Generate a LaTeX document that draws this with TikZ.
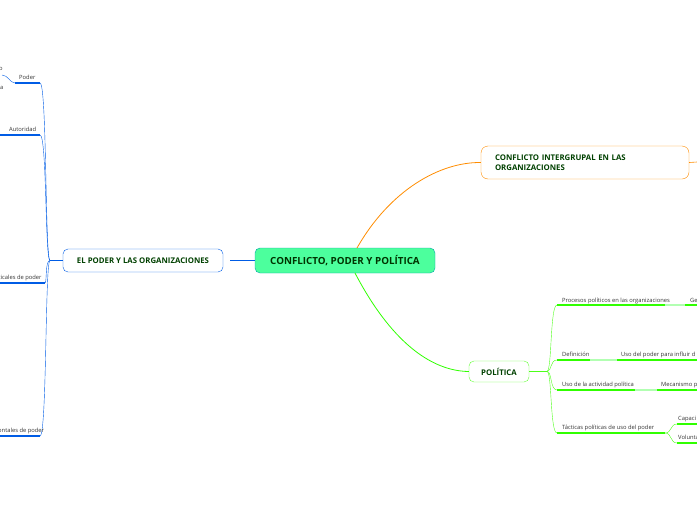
\documentclass[tikz,border=0pt]{standalone}
\usepackage{fontspec}
\setmainfont{Open Sans}
\begin{document}
\begin{tikzpicture}[x=1pt,y=-1pt,
  small/.style={font=\fontsize{5.8}{7}\selectfont,text=black!80,inner sep=0pt,anchor=base west},
  bl/.style={draw=blue!60!cyan!90!black,line width=0.4pt},
  blu/.style={draw=blue!60!cyan!90!black,line width=1.2pt},
  gr/.style={draw=green!70!lime!90!white,line width=0.4pt},
  gru/.style={draw=green!75!lime,line width=1.2pt},
  hd/.style={font=\fontsize{7.8}{9.5}\selectfont\bfseries,text=green!25!black,align=left}]
\useasboundingbox (0,0) rectangle (697,520);
\clip (0,0) rectangle (697,520);
% center
\node[draw=teal!70!cyan,fill=green!55!cyan!70!white,rounded corners=5pt,minimum width=180pt,minimum height=25pt,font=\fontsize{9.8}{11}\selectfont\bfseries,text=green!20!black] (c) at (345,260.5) {CONFLICTO, PODER Y POLÍTICA};
\node[draw=blue!60!cyan!90!black,rounded corners=5pt,minimum width=160pt,minimum height=23pt,hd] (l) at (143,260.5) {EL PODER Y LAS ORGANIZACIONES};
\node[draw=orange!90!yellow,rounded corners=7pt,minimum width=208pt,minimum height=33pt,hd,text width=180pt] (o) at (585,162.5) {CONFLICTO INTERGRUPAL EN LAS\\ORGANIZACIONES};
\node[draw=green!70!lime!80!white,rounded corners=5pt,minimum width=60pt,minimum height=21pt,hd] (p) at (499,371.5) {POLÍTICA};
\coordinate (cl) at (230,260.5);
\draw[blu,line width=0.8pt] (c.west) -- (cl);
\draw[draw=orange!90!yellow,line width=0.8pt] (357,248) .. controls (390,190) and (440,162) .. (o.west);
\coordinate (oe) at (697,162);
\draw[draw=orange!90!yellow,line width=0.6pt] (o.east) -- (oe);
\draw[draw=green!75!lime,line width=0.8pt] (355,273) .. controls (390,340) and (430,371) .. (p.west);
% left branches
\coordinate (lh) at (50,260.5);
\draw[bl] (l.west) -- (lh);
\foreach \y/\a/\b in {83/15/40,135/0/40,283/0/45,436/0/40}{
  \draw[bl] (lh) .. controls (45,260) and (47,\y) .. (\b,\y);
  \draw[blu] (\a,\y) -- (\b,\y);
}
\node[small] (t1) at (19,79) {Poder};
\node[small] (t2) at (9,131) {Autoridad};
\node[small] (t3) at (-4,279) {rticales de poder};
\node[small] (t4) at (-2,432) {ontales de poder};
\node[small] (t5) at (-1,70) {o};
\node[small] (t6) at (-4,89) {ría};
\draw[bl] (15,83) .. controls (10,83) and (8,75) .. (2,75);
% right branches
\coordinate (ph) at (547,371.5);
\draw[gr] (p.east) -- (ph);
\foreach \y in {305,360,390,433}{
  \draw[gr] (ph) .. controls (552,371) and (550,\y) .. (557,\y);
  \draw[gru] (557,\y) -- (665,\y);
}
\draw[gru] (685,305) -- (697,305);
\draw[gru] (617,360) -- (697,360);
\draw[gru] (657,390) -- (697,390);
\draw[draw=green!30!white,line width=1.2pt] (665,305) -- (685,305);
\draw[draw=green!30!white,line width=1.2pt] (590,360) -- (617,360);
\draw[draw=green!30!white,line width=1.2pt] (635,390) -- (657,390);
\node[small] (r1) at (562,302) {Procesos políticos en las organizaciones};
\node[small] (r1b) at (690,302) {Ge};
\node[small] (r2) at (562,356) {Definición};
\node[small] (r2b) at (621,356) {Uso del poder para influir d};
\node[small] (r3) at (562,386) {Uso de la actividad política};
\node[small] (r3b) at (661,386) {Mecanismo p};
\node[small] (r4) at (562,429.5) {Tácticas políticas de uso del poder};
\coordinate (th) at (665,433);
\draw[gr] (th) .. controls (672,433) and (670,424) .. (677,424);
\draw[gr] (th) .. controls (672,433) and (670,443) .. (677,443);
\draw[gru] (677,424) -- (697,424);
\draw[gru] (677,443) -- (697,443);
\node[small] (r5) at (678,420.5) {Capaci};
\node[small] (r6) at (678,439) {Volunta};
\end{tikzpicture}
\end{document}
